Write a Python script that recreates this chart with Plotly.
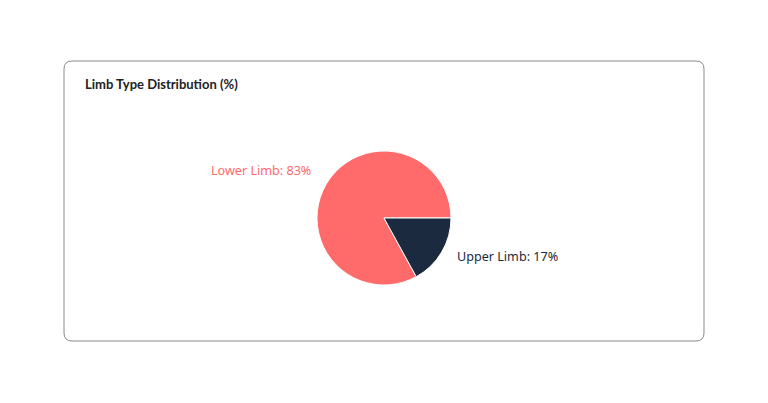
import math
import plotly.graph_objects as go

# data
limb_types = ["Lower Limb", "Upper Limb"]
limb_pct = [83, 17]
slice_colors = ["#FF6B6B", "#1B2A3E"]

W, H = 768, 403
OFF = 8  # page body margin

def px(x):
    return (x - OFF) / W

def py(y):
    return 1 - (y - OFF) / H

# pie geometry in page pixels
cx, cy, rad = 384, 218, 67
label_r = 84

# first slice starts at 3 o'clock and runs counterclockwise
total = sum(limb_pct)
start_rot = 90 - 360 * limb_pct[0] / total

fig = go.Figure()

fig.add_trace(go.Pie(
    labels=limb_types,
    values=limb_pct,
    sort=False,
    direction="counterclockwise",
    rotation=start_rot,
    marker=dict(colors=slice_colors, line=dict(color="white", width=1)),
    textinfo="none",
    showlegend=False,
    hoverinfo="label+value",
    domain=dict(x=[px(cx - 2 * rad), px(cx + 2 * rad)],
                y=[py(cy + rad), py(cy - rad)]),
))

# slice labels, placed on the slice mid-angle outside the pie
acc = 0
for name, val, col in zip(limb_types, limb_pct, slice_colors):
    mid = 2 * math.pi * (acc + val / 2) / total
    acc += val
    lx = cx + label_r * math.cos(mid)
    ly = cy - label_r * math.sin(mid)  # baseline
    fig.add_annotation(
        text=f"{name}: {val}%",
        xref="paper", yref="paper", x=px(lx), y=py(ly - 4.5),
        xanchor="left" if math.cos(mid) >= 0 else "right", yanchor="middle",
        showarrow=False, borderpad=0,
        font=dict(size=12.6, color=col, family="Noto Sans"),
    )

# card outline (rounded rect)
x0, x1, y0, y1, r = px(64), px(704), py(61), py(341), 8
rx, ry = r / W, r / H
path = (f"M {x0+rx},{y0} L {x1-rx},{y0} Q {x1},{y0} {x1},{y0-ry} "
        f"L {x1},{y1+ry} Q {x1},{y1} {x1-rx},{y1} "
        f"L {x0+rx},{y1} Q {x0},{y1} {x0},{y1+ry} "
        f"L {x0},{y0-ry} Q {x0},{y0} {x0+rx},{y0} Z")
fig.add_shape(type="path", path=path, xref="paper", yref="paper",
              line=dict(color="#8a8a8a", width=1), layer="below")

fig.add_annotation(text="<b>Limb Type Distribution (%)</b>",
                   xref="paper", yref="paper", x=px(83), y=py(84),
                   xanchor="left", yanchor="middle", showarrow=False,
                   font=dict(size=13, color="#222222", family="Lato"))

fig.update_layout(
    width=W, height=H,
    margin=dict(l=0, r=0, t=0, b=0),
    paper_bgcolor="white",
    plot_bgcolor="white",
)

fig.write_html("out.html")
